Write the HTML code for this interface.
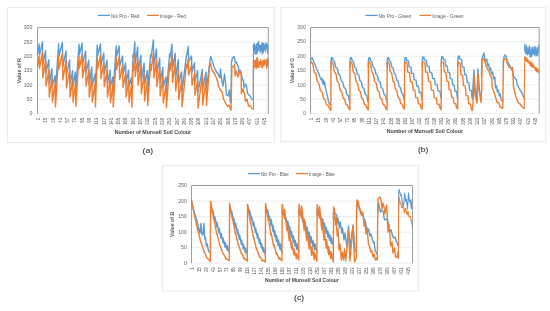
<!DOCTYPE html>
<html><head><meta charset="utf-8"><title>Munsell charts</title><style>
html,body{margin:0;padding:0;background:#fff;}
svg{display:block;filter:blur(0.3px);}
text{font-family:"Liberation Sans",Arial,sans-serif;}
.panel{fill:#fff;stroke:#ebebeb;stroke-width:1.1;}
.g{stroke:#e3e3e3;stroke-width:0.6;}
.ax{fill:none;stroke:#939393;stroke-width:0.9;}
.ln{fill:none;stroke-width:1.4;stroke-linejoin:round;stroke-linecap:round;}
.lg{stroke-width:1.3;}
.lnf{fill:none;stroke-width:1.1;stroke-linejoin:round;stroke-linecap:round;}
.yl{font-size:5.2px;fill:#666;text-anchor:end;}
.xl{font-size:4.9px;fill:#5a5a5a;text-anchor:end;}
.yt{font-size:5.2px;fill:#595959;font-weight:bold;text-anchor:middle;}
.xt{font-size:5.3px;fill:#444;font-weight:bold;text-anchor:middle;}
.lt{font-size:5.2px;fill:#595959;}
.cap{font-size:7.6px;fill:#383838;text-anchor:middle;stroke:#383838;stroke-width:0.1;}
</style></head>
<body><svg width="550" height="311" viewBox="0 0 550 311">
<rect width="550" height="311" fill="#fff"/>
<rect x="7.5" y="7.5" width="267.0" height="135.0" class="panel"/>
<line x1="37.50" y1="99.43" x2="268.30" y2="99.43" class="g"/>
<line x1="37.50" y1="85.07" x2="268.30" y2="85.07" class="g"/>
<line x1="37.50" y1="70.70" x2="268.30" y2="70.70" class="g"/>
<line x1="37.50" y1="56.33" x2="268.30" y2="56.33" class="g"/>
<line x1="37.50" y1="41.97" x2="268.30" y2="41.97" class="g"/>
<line x1="37.50" y1="113.80" x2="268.30" y2="113.80" class="g"/>
<path class="ln" stroke="#5B9BD5" d="M37.50,54.90L39.10,43.98L39.57,54.90L42.40,41.97L42.87,64.67L45.60,50.59L46.07,72.71L48.80,59.78L49.27,83.92L51.90,68.69L52.37,85.93L55.00,75.87L55.47,90.81L58.60,43.69L59.07,55.76L62.40,42.54L62.87,66.68L66.00,50.87L66.47,74.72L69.60,60.07L70.07,83.92L72.60,70.70L73.07,85.93L75.40,72.14L75.87,90.24L79.00,44.27L79.47,54.90L82.10,43.12L82.57,64.67L85.60,50.87L86.07,72.71L88.80,60.07L89.27,83.92L91.80,66.96L92.27,85.93L95.00,73.86L95.47,90.81L97.20,45.13L97.67,55.47L100.50,43.98L100.97,65.53L103.80,52.89L104.27,73.29L107.00,60.07L107.47,83.92L110.00,70.13L110.47,86.22L112.80,77.02L113.27,90.81L116.20,45.70L116.67,56.05L119.20,45.99L119.67,66.10L122.60,56.05L123.07,74.15L125.60,62.94L126.07,83.92L128.60,70.13L129.07,86.22L131.40,77.88L131.87,90.81L133.00,54.61L133.47,57.48L134.80,41.97L135.27,63.23L137.60,46.85L138.07,71.85L140.90,55.18L141.37,80.47L144.10,63.23L144.57,84.78L147.30,70.70L147.77,89.66L150.60,54.61L151.07,57.48L153.40,39.96L153.87,64.67L156.40,48.86L156.87,73.29L159.70,58.06L160.17,82.77L162.80,67.54L163.27,86.79L166.00,77.02L166.47,91.68L169.60,54.03L170.07,57.48L172.00,43.98L172.47,68.98L175.20,53.17L175.67,77.60L178.30,59.78L178.77,83.34L181.60,71.85L182.07,90.81L186.50,54.90L186.97,54.61L188.20,46.56L188.67,61.79L191.50,56.05L191.97,71.85L194.50,62.94L194.97,81.91L197.60,70.70L198.07,91.96L202.30,69.55L202.77,88.80L206.00,72.14L206.47,89.38L209.80,62.00L210.70,56.40L212.50,62.00L214.00,66.50L216.00,71.00L218.00,74.00L219.80,78.00L220.50,69.00L221.50,79.00L223.00,86.00L224.50,74.00L225.50,82.00L226.50,95.00L228.00,96.00L229.50,90.00L230.30,102.50L231.10,103.00L231.50,62.00L232.50,58.00L234.20,56.60L235.50,63.00L236.30,62.00L237.50,65.00L238.20,66.00L239.00,73.00L240.00,70.00L241.50,75.00L242.50,80.00L243.50,80.00L244.00,88.00L245.50,84.00L246.50,86.00L247.50,93.00L248.00,94.00L249.00,95.00L250.00,96.00L251.50,99.00L253.20,100.00"/>
<path class="lnf" stroke="#5B9BD5" d="M253.20,100.00L253.40,44.31L253.92,50.87L254.45,43.22L254.97,54.28L255.50,45.80L256.02,54.21L256.55,43.79L257.07,53.90L257.60,42.74L258.12,51.29L258.65,40.94L259.17,49.68L259.69,45.24L260.22,52.84L260.74,45.05L261.27,50.94L261.79,43.16L262.32,54.27L262.84,42.47L263.37,52.80L263.89,43.65L264.42,50.04L264.94,44.73L265.46,51.59L265.99,42.22L266.51,48.98L267.04,43.83L267.56,53.74L268.09,45.79"/>
<path class="ln" stroke="#ED7D31" d="M37.50,66.39L39.10,56.05L39.57,68.11L42.40,52.02L42.87,77.88L45.60,60.07L46.07,85.93L48.80,70.13L49.27,97.13L51.90,77.88L52.37,102.02L55.00,83.92L55.47,106.90L58.60,55.76L59.07,68.98L62.40,53.46L62.87,79.89L66.00,60.64L66.47,87.94L69.60,70.70L70.07,97.13L72.60,79.32L73.07,102.02L75.40,83.63L75.87,106.33L79.00,56.33L79.47,68.11L82.10,54.03L82.57,77.88L85.60,60.64L86.07,85.93L88.80,70.13L89.27,97.13L91.80,77.02L92.27,102.02L95.00,83.92L95.47,106.90L97.20,56.91L97.67,68.69L100.50,54.90L100.97,78.75L103.80,62.65L104.27,86.50L107.00,70.70L107.47,97.13L110.00,79.32L110.47,102.31L112.80,85.07L113.27,106.90L116.20,57.48L116.67,69.26L119.20,56.91L119.67,79.32L122.60,64.95L123.07,87.37L125.60,73.00L126.07,97.13L128.60,79.89L129.07,102.31L131.40,85.64L131.87,106.90L133.00,64.95L133.47,70.70L134.80,54.61L135.27,76.45L137.60,58.34L138.07,85.07L140.90,64.95L141.37,93.69L144.10,73.57L144.57,100.87L147.30,80.76L147.77,105.75L150.60,64.38L151.07,70.70L153.40,52.89L153.87,77.88L156.40,59.78L156.87,86.50L159.70,67.83L160.17,95.99L162.80,77.02L163.27,102.88L166.00,85.07L166.47,107.77L169.60,63.52L170.07,70.70L172.00,54.90L172.47,82.19L175.20,63.23L175.67,90.81L178.30,70.70L178.77,99.43L181.60,80.76L182.07,106.90L186.50,64.09L186.97,67.83L188.20,59.21L188.67,75.01L191.50,65.53L191.97,85.07L194.50,73.57L194.97,95.12L197.60,80.76L198.07,108.05L202.30,75.01L202.77,104.89L206.00,79.89L206.47,105.47L209.50,66.00L210.50,63.50L212.00,70.00L214.50,73.50L216.00,77.00L217.50,81.00L218.50,86.00L220.00,89.50L222.00,92.00L223.00,96.00L223.50,99.00L225.50,103.00L227.50,106.50L229.00,105.00L230.50,109.50L231.10,110.00L231.80,66.00L233.50,67.00L234.50,64.50L235.20,76.00L236.50,71.00L238.00,77.00L239.50,71.50L241.00,72.00L241.40,93.80L243.00,89.00L244.00,93.00L244.50,94.00L245.50,101.50L247.00,99.00L248.50,106.00L250.50,106.00L252.00,108.50L253.50,109.00"/>
<path class="lnf" stroke="#ED7D31" d="M253.50,109.00L253.40,61.34L253.92,68.85L254.45,60.29L254.97,66.35L255.50,59.96L256.02,68.74L256.55,58.04L257.07,67.98L257.60,57.45L258.12,66.98L258.65,61.85L259.17,67.60L259.69,61.50L260.22,64.57L260.74,59.24L261.27,67.12L261.79,61.77L262.32,68.08L262.84,59.99L263.37,65.90L263.89,60.62L264.42,65.25L264.94,59.27L265.46,64.23L265.99,60.67L266.51,68.58L267.04,58.38L267.56,66.45L268.09,58.82"/>
<path class="ax" d="M37.50,113.80 V27.60 H268.30 V113.80"/>
<text x="32.40" y="115.40" class="yl">0</text>
<text x="32.40" y="101.03" class="yl">50</text>
<text x="32.40" y="86.67" class="yl">100</text>
<text x="32.40" y="72.30" class="yl">150</text>
<text x="32.40" y="57.93" class="yl">200</text>
<text x="32.40" y="43.57" class="yl">250</text>
<text x="32.40" y="29.20" class="yl">300</text>
<text transform="translate(40.00,118.00) rotate(-90) scale(0.86,1.15)" class="xl">1</text>
<text transform="translate(47.29,118.00) rotate(-90) scale(0.86,1.15)" class="xl">15</text>
<text transform="translate(54.58,118.00) rotate(-90) scale(0.86,1.15)" class="xl">29</text>
<text transform="translate(61.87,118.00) rotate(-90) scale(0.86,1.15)" class="xl">43</text>
<text transform="translate(69.16,118.00) rotate(-90) scale(0.86,1.15)" class="xl">57</text>
<text transform="translate(76.45,118.00) rotate(-90) scale(0.86,1.15)" class="xl">71</text>
<text transform="translate(83.74,118.00) rotate(-90) scale(0.86,1.15)" class="xl">85</text>
<text transform="translate(91.03,118.00) rotate(-90) scale(0.86,1.15)" class="xl">99</text>
<text transform="translate(98.32,118.00) rotate(-90) scale(0.86,1.15)" class="xl">113</text>
<text transform="translate(105.61,118.00) rotate(-90) scale(0.86,1.15)" class="xl">127</text>
<text transform="translate(112.90,118.00) rotate(-90) scale(0.86,1.15)" class="xl">141</text>
<text transform="translate(120.19,118.00) rotate(-90) scale(0.86,1.15)" class="xl">155</text>
<text transform="translate(127.48,118.00) rotate(-90) scale(0.86,1.15)" class="xl">169</text>
<text transform="translate(134.77,118.00) rotate(-90) scale(0.86,1.15)" class="xl">183</text>
<text transform="translate(142.06,118.00) rotate(-90) scale(0.86,1.15)" class="xl">197</text>
<text transform="translate(149.35,118.00) rotate(-90) scale(0.86,1.15)" class="xl">211</text>
<text transform="translate(156.65,118.00) rotate(-90) scale(0.86,1.15)" class="xl">225</text>
<text transform="translate(163.94,118.00) rotate(-90) scale(0.86,1.15)" class="xl">239</text>
<text transform="translate(171.23,118.00) rotate(-90) scale(0.86,1.15)" class="xl">253</text>
<text transform="translate(178.52,118.00) rotate(-90) scale(0.86,1.15)" class="xl">267</text>
<text transform="translate(185.81,118.00) rotate(-90) scale(0.86,1.15)" class="xl">281</text>
<text transform="translate(193.10,118.00) rotate(-90) scale(0.86,1.15)" class="xl">295</text>
<text transform="translate(200.39,118.00) rotate(-90) scale(0.86,1.15)" class="xl">309</text>
<text transform="translate(207.68,118.00) rotate(-90) scale(0.86,1.15)" class="xl">323</text>
<text transform="translate(214.97,118.00) rotate(-90) scale(0.86,1.15)" class="xl">337</text>
<text transform="translate(222.26,118.00) rotate(-90) scale(0.86,1.15)" class="xl">351</text>
<text transform="translate(229.55,118.00) rotate(-90) scale(0.86,1.15)" class="xl">365</text>
<text transform="translate(236.84,118.00) rotate(-90) scale(0.86,1.15)" class="xl">379</text>
<text transform="translate(244.13,118.00) rotate(-90) scale(0.86,1.15)" class="xl">393</text>
<text transform="translate(251.42,118.00) rotate(-90) scale(0.86,1.15)" class="xl">407</text>
<text transform="translate(258.71,118.00) rotate(-90) scale(0.86,1.15)" class="xl">421</text>
<text transform="translate(266.00,118.00) rotate(-90) scale(0.86,1.15)" class="xl">435</text>
<text transform="translate(20.60,70.70) rotate(-90)" class="yt">Value of R</text>
<text x="152.90" y="133.50" class="xt" textLength="76.4" lengthAdjust="spacingAndGlyphs">Number of Munsell Soil Colour</text>
<line x1="98.0" y1="15.4" x2="110.0" y2="15.4" stroke="#5B9BD5" class="lg"/>
<text x="111.0" y="17.8" class="lt" textLength="28.4" lengthAdjust="spacingAndGlyphs">Nix Pro - Red</text>
<line x1="147.0" y1="15.4" x2="159.0" y2="15.4" stroke="#ED7D31" class="lg"/>
<text x="159.8" y="17.8" class="lt" textLength="26.0" lengthAdjust="spacingAndGlyphs">Image - Red</text>
<text transform="translate(147.8,152.6) scale(1.12,1)" class="cap">(a)</text>
<rect x="280.8" y="7.5" width="264.7" height="134.1" class="panel"/>
<line x1="310.50" y1="99.25" x2="539.20" y2="99.25" class="g"/>
<line x1="310.50" y1="84.90" x2="539.20" y2="84.90" class="g"/>
<line x1="310.50" y1="70.55" x2="539.20" y2="70.55" class="g"/>
<line x1="310.50" y1="56.20" x2="539.20" y2="56.20" class="g"/>
<line x1="310.50" y1="41.85" x2="539.20" y2="41.85" class="g"/>
<line x1="310.50" y1="113.60" x2="539.20" y2="113.60" class="g"/>
<path class="ln" stroke="#5B9BD5" d="M310.60,60.22L311.20,58.21L312.20,57.92L313.00,59.64L315.00,64.81L317.00,69.69L319.00,74.28L320.40,78.01L321.20,79.73L321.90,78.30L322.70,83.75L323.30,80.02L324.10,84.90L324.70,82.03L325.40,88.06L326.50,92.36L327.50,96.38L328.50,101.55L329.50,104.13L330.60,104.70M330.94,67.39L331.00,61.08L331.52,57.63L332.56,57.63L333.08,60.51L333.08,60.51L334.58,61.85L335.81,67.25L337.32,68.60L338.55,73.99L340.05,75.34L341.28,80.74L342.78,82.09L344.01,87.48L345.52,88.83L346.75,94.23L348.25,95.58L349.48,100.97L349.84,101.83M349.98,67.39L350.00,61.08L350.52,57.63L351.56,57.63L352.08,60.51L352.08,60.51L353.53,61.85L354.71,67.25L356.16,68.60L357.35,73.99L358.79,75.34L359.98,80.74L361.43,82.09L362.61,87.48L364.06,88.83L365.25,94.23L366.70,95.58L367.88,100.97L368.24,101.83M368.38,67.39L368.40,61.08L368.92,57.63L369.96,57.63L370.48,60.51L370.48,60.51L371.96,61.85L373.18,67.25L374.66,68.60L375.88,73.99L377.36,75.34L378.58,80.74L380.06,82.09L381.28,87.48L382.76,88.83L383.98,94.23L385.47,95.58L386.68,100.97L387.04,101.83M387.18,67.39L387.20,61.08L387.72,57.63L388.76,57.63L389.28,60.51L389.28,60.51L390.64,61.80L391.75,66.96L393.10,68.25L394.21,73.42L395.57,74.71L396.68,79.88L398.04,81.17L399.15,86.33L400.50,87.63L401.61,92.79L402.97,94.08L404.08,99.25L404.44,100.11M404.57,67.39L404.60,61.08L405.12,57.63L406.16,57.63L406.68,60.51L406.68,60.51L408.39,60.82L409.20,66.87L410.91,67.18L411.71,73.23L413.42,73.55L414.23,79.59L415.94,79.91L416.75,85.95L418.46,86.27L419.26,92.31L420.97,92.63L421.78,98.68L422.14,99.54M422.27,66.82L422.30,60.51L422.82,57.06L423.86,57.06L424.38,59.93L424.38,59.93L426.24,60.24L427.11,66.10L428.97,66.41L429.85,72.27L431.70,72.58L432.58,78.44L434.44,78.75L435.31,84.61L437.17,84.92L438.05,90.78L439.91,91.09L440.78,96.95L441.14,97.81M441.27,66.53L441.30,60.22L441.82,56.77L442.86,56.77L443.38,59.64L443.38,59.64L444.95,59.96L445.70,65.96L447.27,66.27L448.01,72.27L449.59,72.59L450.33,78.59L451.91,78.90L452.65,84.90L454.22,85.22L454.96,91.21L456.54,91.53L457.28,97.53L457.64,98.39M457.77,65.96L457.80,59.64L458.32,56.20L459.36,56.20L459.88,59.07L459.88,59.07L461.54,59.46L462.32,66.82L463.98,67.21L464.76,74.57L466.42,74.96L467.20,82.32L468.86,82.70L469.64,90.07L471.30,90.45L472.08,97.81L472.44,98.68L473.20,82.00L474.00,70.00L475.00,88.00L476.80,100.00L478.00,69.00L479.00,86.00L481.00,100.00M481.47,76.31L481.60,70.00L482.00,58.00L484.00,53.00L485.00,60.00L486.00,61.00L486.80,59.00L487.60,66.00L488.60,64.00L489.60,70.00L490.60,68.00L491.60,74.00L492.60,72.00L493.80,79.00L494.80,77.00L495.60,88.00L496.50,86.00L497.30,92.00L498.20,90.00L499.20,96.00L500.20,94.00L501.20,100.00L502.40,101.00L502.90,101.00M503.24,68.31L503.30,62.00L504.00,57.00L505.00,55.00L506.50,57.00L507.20,62.00L508.50,63.00L510.00,66.00L511.00,68.00L512.00,70.00L514.00,77.00L516.50,80.00L517.00,84.00L520.00,90.00L522.00,93.00L524.00,98.00L524.50,99.00"/>
<path class="lnf" stroke="#5B9BD5" d="M524.50,99.00M524.68,50.39L524.70,44.08L525.22,52.83L525.74,53.76L526.26,44.93L526.78,53.01L527.30,54.90L527.82,47.31L528.34,54.00L528.86,53.10L529.38,45.82L529.90,57.23L530.42,56.48L530.94,47.32L531.46,56.68L531.98,55.33L532.50,47.22L533.02,54.51L533.54,53.12L534.06,46.31L534.58,55.49L535.10,52.40L535.62,46.78L536.13,56.14L536.65,54.30L537.17,47.57L537.69,55.44L538.21,52.42L538.73,45.22"/>
<path class="ln" stroke="#ED7D31" d="M310.50,63.38L311.02,61.65L311.02,61.65L312.73,63.72L314.13,71.99L315.85,73.91L317.25,81.61L318.96,83.38L320.36,90.43L322.07,92.00L323.47,98.26L325.19,99.57L326.59,104.79L328.30,105.64L329.70,109.01L330.48,110.16L330.84,110.44L331.00,63.38L331.52,61.65L331.52,61.65L333.09,63.69L334.38,71.86L335.96,73.76L337.25,81.37L338.82,83.11L340.11,90.08L341.69,91.63L342.97,97.82L344.55,99.11L345.84,104.27L347.41,105.10L348.70,108.43L349.48,109.58L349.84,109.87L350.00,63.38L350.52,61.65L350.52,61.65L352.04,63.69L353.28,71.86L354.80,73.76L356.05,81.37L357.57,83.11L358.81,90.08L360.33,91.63L361.57,97.82L363.09,99.11L364.34,104.27L365.86,105.10L367.10,108.43L367.88,109.58L368.24,109.87L368.40,63.38L368.92,61.65L368.92,61.65L370.48,63.69L371.75,71.86L373.31,73.76L374.58,81.37L376.14,83.11L377.41,90.08L378.97,91.63L380.24,97.82L381.80,99.11L383.07,104.27L384.63,105.10L385.90,108.43L386.68,109.58L387.04,109.87L387.20,63.38L387.72,61.65L387.72,61.65L389.15,63.66L390.32,71.67L391.74,73.54L392.91,81.01L394.34,82.72L395.51,89.56L396.94,91.08L398.11,97.15L399.54,98.42L400.70,103.49L402.13,104.30L403.30,107.57L404.08,108.72L404.44,109.01L404.60,63.95L405.12,62.23L405.12,62.23L406.92,62.72L407.77,72.18L409.57,72.65L410.41,81.46L412.21,81.89L413.06,89.96L414.86,90.34L415.71,97.50L417.51,97.82L418.35,103.80L420.15,104.00L421.00,107.86L421.78,109.01L422.14,109.29L422.30,63.66L422.82,61.94L422.82,61.94L424.77,62.44L425.68,72.02L427.63,72.49L428.55,81.42L430.49,81.85L431.41,90.02L433.36,90.40L434.27,97.66L436.22,97.98L437.14,104.03L439.08,104.24L440.00,108.15L440.78,109.29L441.14,109.58L441.30,63.66L441.82,61.94L441.82,61.94L443.48,62.44L444.27,71.90L445.93,72.36L446.71,81.18L448.38,81.60L449.16,89.67L450.82,90.05L451.61,97.22L453.27,97.53L454.05,103.51L455.72,103.71L456.50,107.57L457.28,108.72L457.64,109.01L457.80,64.24L458.32,62.51L458.32,62.51L460.09,63.12L460.92,74.61L462.68,75.16L463.51,85.68L465.28,86.17L466.11,95.51L467.87,95.92L468.70,103.71L470.47,103.98L471.30,109.01L472.08,110.16L472.44,110.44L473.20,100.00L474.00,75.00L475.00,95.00L477.00,103.00L478.00,73.00L479.00,90.00L481.00,102.50L481.70,90.00L482.00,60.00L484.00,58.50L485.00,62.00L486.00,66.00L487.00,68.00L488.00,70.00L489.00,71.00L490.00,75.00L491.50,77.00L492.00,82.00L492.30,88.00L494.00,92.00L495.50,97.00L497.00,102.00L499.00,103.00L500.00,107.00L502.00,108.00L502.80,108.30L503.30,70.00L503.60,59.00L506.50,59.00L507.00,63.00L509.00,67.00L511.50,68.50L512.50,67.50L513.00,75.00L513.50,87.00L514.50,91.00L516.00,97.00L518.00,102.00L520.00,104.00L522.00,107.00L524.20,108.50"/>
<path class="lnf" stroke="#ED7D31" d="M524.20,108.50L524.70,56.48L525.22,60.66L525.74,57.43L526.26,61.36L526.78,57.71L527.30,61.93L527.82,59.19L528.34,62.25L528.86,61.01L529.38,63.89L529.90,61.65L530.42,65.99L530.94,62.02L531.46,66.71L531.98,62.80L532.50,67.30L533.02,63.76L533.54,67.45L534.06,65.69L534.58,68.40L535.10,67.21L535.62,70.70L536.13,67.52L536.65,71.62L537.17,68.65L537.69,72.00L538.21,69.09L538.73,72.88"/>
<path class="ax" d="M310.50,113.60 V27.50 H539.20 V113.60"/>
<text x="305.80" y="115.20" class="yl">0</text>
<text x="305.80" y="100.85" class="yl">50</text>
<text x="305.80" y="86.50" class="yl">100</text>
<text x="305.80" y="72.15" class="yl">150</text>
<text x="305.80" y="57.80" class="yl">200</text>
<text x="305.80" y="43.45" class="yl">250</text>
<text x="305.80" y="29.10" class="yl">300</text>
<text transform="translate(313.20,117.80) rotate(-90) scale(0.86,1.15)" class="xl">1</text>
<text transform="translate(320.41,117.80) rotate(-90) scale(0.86,1.15)" class="xl">15</text>
<text transform="translate(327.63,117.80) rotate(-90) scale(0.86,1.15)" class="xl">29</text>
<text transform="translate(334.84,117.80) rotate(-90) scale(0.86,1.15)" class="xl">43</text>
<text transform="translate(342.05,117.80) rotate(-90) scale(0.86,1.15)" class="xl">57</text>
<text transform="translate(349.26,117.80) rotate(-90) scale(0.86,1.15)" class="xl">71</text>
<text transform="translate(356.48,117.80) rotate(-90) scale(0.86,1.15)" class="xl">85</text>
<text transform="translate(363.69,117.80) rotate(-90) scale(0.86,1.15)" class="xl">99</text>
<text transform="translate(370.90,117.80) rotate(-90) scale(0.86,1.15)" class="xl">113</text>
<text transform="translate(378.12,117.80) rotate(-90) scale(0.86,1.15)" class="xl">127</text>
<text transform="translate(385.33,117.80) rotate(-90) scale(0.86,1.15)" class="xl">141</text>
<text transform="translate(392.54,117.80) rotate(-90) scale(0.86,1.15)" class="xl">155</text>
<text transform="translate(399.75,117.80) rotate(-90) scale(0.86,1.15)" class="xl">169</text>
<text transform="translate(406.97,117.80) rotate(-90) scale(0.86,1.15)" class="xl">183</text>
<text transform="translate(414.18,117.80) rotate(-90) scale(0.86,1.15)" class="xl">197</text>
<text transform="translate(421.39,117.80) rotate(-90) scale(0.86,1.15)" class="xl">211</text>
<text transform="translate(428.61,117.80) rotate(-90) scale(0.86,1.15)" class="xl">225</text>
<text transform="translate(435.82,117.80) rotate(-90) scale(0.86,1.15)" class="xl">239</text>
<text transform="translate(443.03,117.80) rotate(-90) scale(0.86,1.15)" class="xl">253</text>
<text transform="translate(450.25,117.80) rotate(-90) scale(0.86,1.15)" class="xl">267</text>
<text transform="translate(457.46,117.80) rotate(-90) scale(0.86,1.15)" class="xl">281</text>
<text transform="translate(464.67,117.80) rotate(-90) scale(0.86,1.15)" class="xl">295</text>
<text transform="translate(471.88,117.80) rotate(-90) scale(0.86,1.15)" class="xl">309</text>
<text transform="translate(479.10,117.80) rotate(-90) scale(0.86,1.15)" class="xl">323</text>
<text transform="translate(486.31,117.80) rotate(-90) scale(0.86,1.15)" class="xl">337</text>
<text transform="translate(493.52,117.80) rotate(-90) scale(0.86,1.15)" class="xl">351</text>
<text transform="translate(500.74,117.80) rotate(-90) scale(0.86,1.15)" class="xl">365</text>
<text transform="translate(507.95,117.80) rotate(-90) scale(0.86,1.15)" class="xl">379</text>
<text transform="translate(515.16,117.80) rotate(-90) scale(0.86,1.15)" class="xl">393</text>
<text transform="translate(522.37,117.80) rotate(-90) scale(0.86,1.15)" class="xl">407</text>
<text transform="translate(529.59,117.80) rotate(-90) scale(0.86,1.15)" class="xl">421</text>
<text transform="translate(536.80,117.80) rotate(-90) scale(0.86,1.15)" class="xl">435</text>
<text transform="translate(293.70,70.55) rotate(-90)" class="yt">Value of G</text>
<text x="424.85" y="133.20" class="xt" textLength="76.2" lengthAdjust="spacingAndGlyphs">Number of Munsell Soil Colour</text>
<line x1="365.6" y1="15.4" x2="377.6" y2="15.4" stroke="#5B9BD5" class="lg"/>
<text x="378.6" y="17.8" class="lt" textLength="32.9" lengthAdjust="spacingAndGlyphs">Nix Pro - Green</text>
<line x1="419.4" y1="15.4" x2="431.4" y2="15.4" stroke="#ED7D31" class="lg"/>
<text x="432.2" y="17.8" class="lt" textLength="31.4" lengthAdjust="spacingAndGlyphs">Image - Green</text>
<text transform="translate(423.1,152.2) scale(1.12,1)" class="cap">(b)</text>
<rect x="162.5" y="165.6" width="256.0" height="125.4" class="panel"/>
<line x1="191.50" y1="247.66" x2="412.50" y2="247.66" class="g"/>
<line x1="191.50" y1="232.12" x2="412.50" y2="232.12" class="g"/>
<line x1="191.50" y1="216.58" x2="412.50" y2="216.58" class="g"/>
<line x1="191.50" y1="201.04" x2="412.50" y2="201.04" class="g"/>
<line x1="191.50" y1="263.20" x2="412.50" y2="263.20" class="g"/>
<path class="ln" stroke="#5B9BD5" d="M191.70,201.00L193.00,208.00L194.50,213.00L196.00,218.00L197.00,221.00L198.50,228.00L200.00,233.00L200.90,223.50L201.70,234.00L202.80,235.00L203.90,223.50L204.60,236.00L205.20,240.00L205.60,238.00L206.30,246.00L207.20,244.00L208.50,251.00L209.50,252.00L210.30,253.00M210.64,212.23L210.70,205.39L212.68,213.55L212.83,210.13L214.76,220.37L214.91,216.95L216.83,226.77L216.98,222.11L218.91,232.71L219.06,228.04L220.99,238.13L221.14,233.47L223.07,242.97L223.22,238.31L225.14,247.13L225.29,242.47L227.22,250.42L227.37,245.76L229.30,252.32M229.64,213.16L229.70,206.32L231.57,214.48L231.72,211.07L233.53,221.36L233.68,217.94L235.50,227.85L235.65,223.19L237.47,233.93L237.62,229.26L239.43,239.53L239.58,234.87L241.40,244.59L241.55,239.93L243.37,249.02L243.52,244.36L245.33,252.61L245.48,247.95L247.30,254.81M247.64,212.85L247.70,206.01L249.57,213.74L249.72,210.32L251.53,220.28L251.68,216.87L253.50,226.55L253.65,221.89L255.47,232.52L255.62,227.85L257.43,238.13L257.58,233.47L259.40,243.33L259.55,238.67L261.37,248.03L261.52,243.37L263.33,252.06L263.48,247.40L265.30,254.81M265.64,212.54L265.70,205.70L267.41,213.12L267.56,209.70L269.22,219.37L269.37,215.95L271.03,225.35L271.18,219.45L272.84,231.04L272.99,225.14L274.65,236.40L274.81,230.50L276.47,241.37L276.62,235.46L278.28,245.86L278.43,239.95L280.09,249.70L280.24,243.79L281.90,252.32M282.24,214.72L282.30,207.88L284.03,215.12L284.18,211.70L285.87,221.15L286.02,217.73L287.70,226.89L287.85,220.98L289.53,232.30L289.68,226.40L291.37,237.35L291.52,231.44L293.20,241.97L293.35,236.06L295.03,246.07L295.18,240.17L296.87,249.49L297.02,243.59L298.70,251.70M299.04,215.34L299.10,208.50L300.99,215.86L301.14,212.44L302.98,221.97L303.13,218.55L304.97,227.74L305.12,221.83L306.95,233.14L307.11,227.23L308.94,238.12L309.09,232.21L310.93,242.62L311.08,236.72L312.92,246.55L313.07,240.65L314.91,249.75L315.06,243.84L316.90,251.70M317.24,215.96L317.30,209.12L318.97,215.08L319.12,211.66L320.73,219.93L320.88,216.51L322.50,224.57L322.65,218.66L324.27,228.98L324.42,223.08L326.03,233.14L326.18,227.23L327.80,236.99L327.95,231.08L329.57,240.47L329.72,234.56L331.33,243.45L331.48,237.54L333.10,245.48M333.42,218.84L333.50,212.00L335.00,213.00L336.60,215.00L337.20,224.00L337.90,218.00L339.50,228.00L340.20,222.00L341.80,233.00L342.50,228.00L344.00,240.00L345.00,233.00L347.00,247.00L348.50,226.00L350.00,248.00L353.00,225.00L355.00,250.00L356.30,252.00M356.64,212.84L356.70,206.00L357.50,203.00L358.50,207.00L360.00,211.00L361.50,215.00L362.50,213.00L364.00,219.00L365.00,220.00L366.50,227.00L367.50,231.00L368.50,229.00L370.00,236.00L371.00,234.00L372.50,240.00L373.50,243.00L374.20,242.00L375.00,250.00L376.50,253.00L377.20,254.00M377.71,212.84L377.80,206.00L378.60,203.00L379.50,208.00L380.50,212.00L381.50,210.00L383.50,212.00L384.00,218.00L385.00,220.00L386.50,219.00L388.00,221.00L389.00,229.00L390.50,231.00L391.30,230.00L392.00,234.00L393.50,238.00L395.00,237.00L396.50,242.00L397.50,244.00L398.20,246.00"/>
<path class="lnf" stroke="#5B9BD5" d="M398.20,246.00M398.53,211.84L398.60,205.00L398.80,189.50L400.00,192.50L400.80,196.00L401.40,194.50L402.20,202.00L403.50,207.00L404.60,193.00L405.60,201.00L406.40,199.00L407.50,209.00L408.50,193.00L409.60,202.00L410.30,200.00L411.40,209.00L412.20,199.00L412.50,203.00"/>
<path class="ln" stroke="#ED7D31" d="M191.50,200.42L194.63,216.65L194.76,215.80L197.77,230.76L197.89,229.98L200.90,242.59L201.02,241.89L204.03,251.92L204.16,251.30L207.17,258.44L207.29,257.89L210.30,261.34L210.60,201.35L213.72,219.49L213.84,218.63L216.83,234.33L216.96,233.55L219.95,245.87L220.07,245.17L223.07,254.12L223.19,253.50L226.18,259.06L226.31,258.52L229.30,260.71L229.60,203.22L232.55,220.14L232.68,219.00L235.50,234.27L235.63,233.23L238.45,245.53L238.57,244.60L241.40,253.86L241.52,253.03L244.35,259.10L244.47,258.38L247.30,261.02L247.60,204.15L250.55,223.25L250.68,221.82L253.50,238.27L253.63,236.97L256.45,249.38L256.57,248.21L259.40,256.80L259.52,255.76L262.35,260.83L262.47,259.93L265.30,261.96L265.60,203.53L268.32,221.00L268.44,218.72L271.03,235.30L271.16,233.23L273.75,246.42L273.87,244.55L276.47,254.36L276.59,252.70L279.18,259.13L279.31,257.67L281.90,260.71L282.20,204.15L284.56,218.35L284.68,209.69L286.91,230.57L287.04,222.58L289.27,240.77L289.40,233.45L291.63,248.91L291.75,242.25L293.98,254.92L294.11,248.92L296.34,258.71L296.47,253.38L298.70,260.09L299.00,204.15L301.56,218.00L301.68,205.88L304.11,230.13L304.24,218.94L306.67,240.45L306.80,230.19L309.23,248.89L309.35,239.57L311.78,255.34L311.91,246.95L314.34,259.61L314.47,252.15L316.90,261.34L317.20,204.46L319.47,218.01L319.60,206.47L321.74,229.87L321.87,219.22L324.01,239.97L324.14,230.20L326.28,248.23L326.41,239.35L328.56,254.54L328.68,246.54L330.83,258.72L330.95,251.61L333.10,260.40L333.30,262.00L333.60,207.00L334.50,210.00L335.50,225.00L336.20,218.00L337.20,236.00L338.00,229.00L339.00,250.00L340.00,244.00L341.30,260.00L342.30,252.00L343.50,260.00L344.50,249.00L345.70,261.00L348.50,231.00L350.00,261.00L353.00,226.00L354.50,262.00L356.30,258.00L356.60,206.00L357.00,200.00L358.50,202.00L359.00,206.00L360.50,210.00L361.50,215.00L362.50,212.00L363.50,219.00L364.00,226.00L365.00,222.00L366.00,234.00L367.00,228.00L368.50,244.00L369.20,246.00L370.00,248.00L371.00,252.00L372.00,251.00L373.00,257.00L374.00,254.00L375.50,260.00L376.50,258.00L377.30,260.00L377.80,212.00L378.00,199.00L380.00,197.00L381.00,200.00L382.00,209.00L383.00,203.00L384.00,207.00L385.00,214.00L386.50,205.00L387.30,217.00L388.00,232.00L389.00,224.00L390.00,236.00L390.50,246.00L392.00,242.00L393.00,253.00L394.50,248.00L395.50,257.00L397.00,257.00L398.00,252.00L398.40,258.00"/>
<path class="lnf" stroke="#ED7D31" d="M398.40,258.00L398.60,215.00L399.00,197.00L400.00,202.00L401.00,204.00L402.00,208.00L403.30,205.50L404.50,213.00L405.50,208.00L407.00,215.00L408.00,211.00L409.20,217.00L410.20,216.00L411.30,221.00L412.00,224.00L412.50,228.00"/>
<path class="ax" d="M191.50,263.20 V185.50 H412.50 V263.20"/>
<text x="186.80" y="264.80" class="yl">0</text>
<text x="186.80" y="249.26" class="yl">50</text>
<text x="186.80" y="233.72" class="yl">100</text>
<text x="186.80" y="218.18" class="yl">150</text>
<text x="186.80" y="202.64" class="yl">200</text>
<text x="186.80" y="187.10" class="yl">250</text>
<text transform="translate(193.60,267.40) rotate(-90) scale(0.86,1.15)" class="xl">1</text>
<text transform="translate(200.57,267.40) rotate(-90) scale(0.86,1.15)" class="xl">15</text>
<text transform="translate(207.55,267.40) rotate(-90) scale(0.86,1.15)" class="xl">29</text>
<text transform="translate(214.52,267.40) rotate(-90) scale(0.86,1.15)" class="xl">43</text>
<text transform="translate(221.50,267.40) rotate(-90) scale(0.86,1.15)" class="xl">57</text>
<text transform="translate(228.47,267.40) rotate(-90) scale(0.86,1.15)" class="xl">71</text>
<text transform="translate(235.45,267.40) rotate(-90) scale(0.86,1.15)" class="xl">85</text>
<text transform="translate(242.42,267.40) rotate(-90) scale(0.86,1.15)" class="xl">99</text>
<text transform="translate(249.39,267.40) rotate(-90) scale(0.86,1.15)" class="xl">113</text>
<text transform="translate(256.37,267.40) rotate(-90) scale(0.86,1.15)" class="xl">127</text>
<text transform="translate(263.34,267.40) rotate(-90) scale(0.86,1.15)" class="xl">141</text>
<text transform="translate(270.32,267.40) rotate(-90) scale(0.86,1.15)" class="xl">155</text>
<text transform="translate(277.29,267.40) rotate(-90) scale(0.86,1.15)" class="xl">169</text>
<text transform="translate(284.26,267.40) rotate(-90) scale(0.86,1.15)" class="xl">183</text>
<text transform="translate(291.24,267.40) rotate(-90) scale(0.86,1.15)" class="xl">197</text>
<text transform="translate(298.21,267.40) rotate(-90) scale(0.86,1.15)" class="xl">211</text>
<text transform="translate(305.19,267.40) rotate(-90) scale(0.86,1.15)" class="xl">225</text>
<text transform="translate(312.16,267.40) rotate(-90) scale(0.86,1.15)" class="xl">239</text>
<text transform="translate(319.14,267.40) rotate(-90) scale(0.86,1.15)" class="xl">253</text>
<text transform="translate(326.11,267.40) rotate(-90) scale(0.86,1.15)" class="xl">267</text>
<text transform="translate(333.08,267.40) rotate(-90) scale(0.86,1.15)" class="xl">281</text>
<text transform="translate(340.06,267.40) rotate(-90) scale(0.86,1.15)" class="xl">295</text>
<text transform="translate(347.03,267.40) rotate(-90) scale(0.86,1.15)" class="xl">309</text>
<text transform="translate(354.01,267.40) rotate(-90) scale(0.86,1.15)" class="xl">323</text>
<text transform="translate(360.98,267.40) rotate(-90) scale(0.86,1.15)" class="xl">337</text>
<text transform="translate(367.95,267.40) rotate(-90) scale(0.86,1.15)" class="xl">351</text>
<text transform="translate(374.93,267.40) rotate(-90) scale(0.86,1.15)" class="xl">365</text>
<text transform="translate(381.90,267.40) rotate(-90) scale(0.86,1.15)" class="xl">379</text>
<text transform="translate(388.88,267.40) rotate(-90) scale(0.86,1.15)" class="xl">393</text>
<text transform="translate(395.85,267.40) rotate(-90) scale(0.86,1.15)" class="xl">407</text>
<text transform="translate(402.83,267.40) rotate(-90) scale(0.86,1.15)" class="xl">421</text>
<text transform="translate(409.80,267.40) rotate(-90) scale(0.86,1.15)" class="xl">435</text>
<text transform="translate(174.40,224.35) rotate(-90)" class="yt">Value of B</text>
<text x="302.00" y="282.30" class="xt" textLength="73.8" lengthAdjust="spacingAndGlyphs">Number of Munsell Soil Colour</text>
<line x1="248.0" y1="173.6" x2="260.0" y2="173.6" stroke="#5B9BD5" class="lg"/>
<text x="261.0" y="176.0" class="lt" textLength="27.8" lengthAdjust="spacingAndGlyphs">Nix Pro - Blue</text>
<line x1="296.0" y1="173.6" x2="308.0" y2="173.6" stroke="#ED7D31" class="lg"/>
<text x="309.0" y="176.0" class="lt" textLength="25.8" lengthAdjust="spacingAndGlyphs">Image - Blue</text>
<text transform="translate(299.0,300.4) scale(1.12,1)" class="cap">(c)</text>
</svg></body></html>
